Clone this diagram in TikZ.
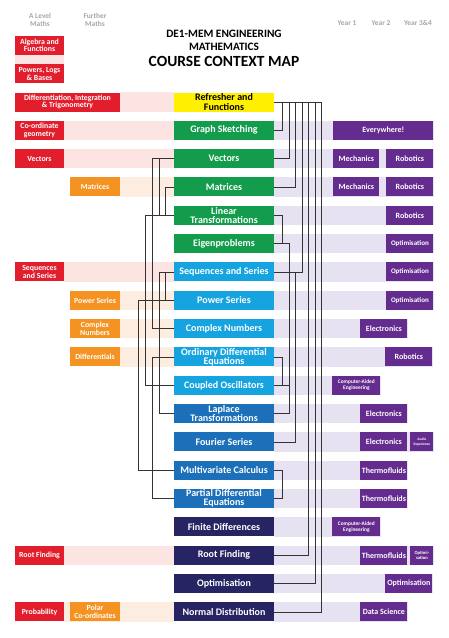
\documentclass[tikz,border=0pt]{standalone}
\usepackage{fontspec}
\setmainfont{Carlito}
\usepackage{xcolor}
\usepackage{tikz}
\usetikzlibrary{positioning, backgrounds}

\definecolor{alred}{RGB}{226,30,45}
\definecolor{fmorange}{RGB}{244,146,34}
\definecolor{refyellow}{RGB}{255,240,0}
\definecolor{coregreen}{RGB}{18,156,76}
\definecolor{corecyan}{RGB}{22,164,224}
\definecolor{coreblue}{RGB}{28,112,186}
\definecolor{corenavy}{RGB}{38,36,98}
\definecolor{usepurple}{RGB}{100,44,142}
\definecolor{lavband}{RGB}{231,226,241}
\definecolor{pinkband}{RGB}{252,228,226}
\definecolor{peachband}{RGB}{253,237,224}
\definecolor{headgrey}{RGB}{165,165,165}

\begin{document}
\begin{tikzpicture}[
    x=1pt, y=-1pt,
    core/.style={rectangle, minimum width=100pt, minimum height=19pt, inner sep=0pt, align=center, text=white, font=\bfseries\fontsize{10}{9.2}\selectfont},
    alevel/.style={rectangle, fill=alred, minimum width=49pt, minimum height=19pt, inner sep=0pt, align=center, text=white, font=\bfseries\fontsize{7.8}{7.8}\selectfont, anchor=west},
    further/.style={alevel, fill=fmorange, minimum width=50pt},
    usage/.style={rectangle, fill=usepurple, minimum width=47pt, minimum height=19pt, inner sep=0pt, align=center, text=white, font=\bfseries\fontsize{8}{7.4}\selectfont, anchor=west},
    tiny/.style={font=\bfseries\fontsize{5.4}{6.2}\selectfont},
    link/.style={draw=black!80, line width=0.7pt},
    head/.style={text=headgrey, font=\bfseries\fontsize{7.4}{8.2}\selectfont, align=center}
]
\useasboundingbox (0,0) rectangle (448,638);

% Title and column heads
\node[font=\bfseries\fontsize{11.3}{10}\selectfont] (title1) at (224,34) {DE1-MEM ENGINEERING};
\node[font=\bfseries\fontsize{11.3}{10}\selectfont] (title2) at (224,46.5) {MATHEMATICS};
\node[font=\bfseries\fontsize{15.5}{14}\selectfont] (title3) at (224,61) {COURSE CONTEXT MAP};
\node[head] (hal) at (40,20) {A Level\\Maths};
\node[head] (hfm) at (95,20) {Further\\Maths};
\node[head] (hy1) at (347,23) {Year 1};
\node[head] (hy2) at (381,23) {Year 2};
\node[head] (hy3) at (418,23) {Year 3\&4};

% Core course column
\node[core, fill=refyellow, text=black] (refr) at (224,102) {Refresher and\\Functions};
\node[core, fill=coregreen] (graph) at ([yshift=-28.33pt]refr.center) {Graph Sketching};
\node[core, fill=coregreen] (vectors) at ([yshift=-28.33pt]graph.center) {Vectors};
\node[core, fill=coregreen] (matrices) at ([yshift=-28.33pt]vectors.center) {Matrices};
\node[core, fill=coregreen] (linear) at ([yshift=-28.33pt]matrices.center) {Linear\\Transformations};
\node[core, fill=coregreen] (eigen) at ([yshift=-28.33pt]linear.center) {Eigenproblems};
\node[core, fill=corecyan] (seq) at ([yshift=-28.33pt]eigen.center) {Sequences and Series};
\node[core, fill=corecyan] (power) at ([yshift=-28.33pt]seq.center) {Power Series};
\node[core, fill=corecyan] (complex) at ([yshift=-28.33pt]power.center) {Complex Numbers};
\node[core, fill=corecyan] (ode) at ([yshift=-28.33pt]complex.center) {Ordinary Differential\\Equations};
\node[core, fill=corecyan] (coupled) at ([yshift=-28.33pt]ode.center) {Coupled Oscillators};
\node[core, fill=coreblue] (laplace) at ([yshift=-28.33pt]coupled.center) {Laplace\\Transformations};
\node[core, fill=coreblue] (fourier) at ([yshift=-28.33pt]laplace.center) {Fourier Series};
\node[core, fill=coreblue] (multi) at ([yshift=-28.33pt]fourier.center) {Multivariate Calculus};
\node[core, fill=coreblue] (pde) at ([yshift=-28.33pt]multi.center) {Partial Differential\\Equations};
\node[core, fill=corenavy] (finite) at ([yshift=-28.33pt]pde.center) {Finite Differences};
\node[core, fill=corenavy] (root) at ([yshift=-28.33pt]finite.center) {Root Finding};
\node[core, fill=corenavy] (optim) at ([yshift=-28.33pt]root.center) {Optimisation};
\node[core, fill=corenavy] (normal) at ([yshift=-28.33pt]optim.center) {Normal Distribution};

% A level and further maths
\node[alevel] (lalg) at ([xshift=-159pt, yshift=56.67pt]refr.west) {Algebra and\\Functions};
\node[alevel] (lpow) at ([xshift=-159pt, yshift=28.33pt]refr.west) {Powers, Logs\\\& Bases};
\node[alevel, minimum width=105pt] (ldiff) at ([xshift=-159pt]refr.west) {Differentiation, Integration\\\& Trigonometry};
\node[alevel] (lcoord) at ([xshift=-159pt]graph.west) {Co-ordinate\\geometry};
\node[alevel] (lvec) at ([xshift=-159pt]vectors.west) {Vectors};
\node[further] (fmat) at ([xshift=-104pt]matrices.west) {Matrices};
\node[alevel] (lseq) at ([xshift=-159pt]seq.west) {Sequences\\and Series};
\node[further] (fpow) at ([xshift=-104pt]power.west) {Power Series};
\node[further] (fcomp) at ([xshift=-104pt]complex.west) {Complex\\Numbers};
\node[further] (fdiff) at ([xshift=-104pt]ode.west) {Differentials};
\node[alevel] (lroot) at ([xshift=-159pt]root.west) {Root Finding};
\node[alevel] (lprob) at ([xshift=-159pt]normal.west) {Probability};
\node[further] (fpolar) at ([xshift=-104pt]normal.west) {Polar\\Co-ordinates};

% Later years
\node[usage, minimum width=100pt] (uevery) at ([xshift=59pt]graph.east) {Everywhere!};
\node[usage, minimum width=46pt] (umech1) at ([xshift=59pt]vectors.east) {Mechanics};
\node[usage] (urob1) at ([xshift=112pt]vectors.east) {Robotics};
\node[usage, minimum width=46pt] (umech2) at ([xshift=59pt]matrices.east) {Mechanics};
\node[usage] (urob2) at ([xshift=112pt]matrices.east) {Robotics};
\node[usage] (urob3) at ([xshift=112pt]linear.east) {Robotics};
\node[usage, font=\bfseries\fontsize{7}{6}\selectfont] (uopt1) at ([xshift=112pt]eigen.east) {Optimisation};
\node[usage, font=\bfseries\fontsize{7}{6}\selectfont] (uopt2) at ([xshift=112pt]seq.east) {Optimisation};
\node[usage, font=\bfseries\fontsize{7}{6}\selectfont] (uopt3) at ([xshift=112pt]power.east) {Optimisation};
\node[usage] (uelec1) at ([xshift=86pt]complex.east) {Electronics};
\node[usage] (urob4) at ([xshift=111pt]ode.east) {Robotics};
\node[usage, tiny, minimum width=48pt] (ucae1) at ([xshift=58pt]coupled.east) {Computer-Aided\\Engineering};
\node[usage] (uelec2) at ([xshift=86pt]laplace.east) {Electronics};
\node[usage] (uelec3) at ([xshift=86pt]fourier.east) {Electronics};
\node[usage, minimum width=23pt, font=\bfseries\fontsize{3.6}{4.2}\selectfont] (uaudio) at ([xshift=136pt]fourier.east) {Audio\\Experience};
\node[usage] (uthermo1) at ([xshift=86pt]multi.east) {Thermofluids};
\node[usage] (uthermo2) at ([xshift=86pt]pde.east) {Thermofluids};
\node[usage, tiny, minimum width=48pt] (ucae2) at ([xshift=58pt]finite.east) {Computer-Aided\\Engineering};
\node[usage] (uthermo3) at ([xshift=86pt]root.east) {Thermofluids};
\node[usage, minimum width=23pt, font=\bfseries\fontsize{4.6}{5.2}\selectfont] (uoptim) at ([xshift=136pt]root.east) {Optimi-\\sation};
\node[usage] (uopt4) at ([xshift=111pt]optim.east) {Optimisation};
\node[usage] (udata) at ([xshift=86pt]normal.east) {Data Science};

% Row bands
\begin{scope}[on background layer]
\fill[pinkband] (lalg.south west) rectangle (lpow.north east);
\fill[pinkband] (ldiff.north east) rectangle (refr.south west);
\fill[pinkband] (lcoord.north east) rectangle (graph.south west);
\fill[pinkband] (lvec.north east) rectangle (vectors.south west);
\fill[peachband] (fmat.north east) rectangle (matrices.south west);
\fill[pinkband] (lseq.north east) rectangle (seq.south west);
\fill[peachband] (fpow.north east) rectangle (power.south west);
\fill[peachband] (fcomp.north east) rectangle (complex.south west);
\fill[peachband] (fdiff.north east) rectangle (ode.south west);
\fill[pinkband] (lroot.north east) rectangle (root.south west);
\fill[peachband] (lprob.north east) rectangle (normal.south west);
\fill[lavband] (graph.north east) rectangle (uevery.south east);
\fill[lavband] (vectors.north east) rectangle (urob1.south east);
\fill[lavband] (matrices.north east) rectangle (urob2.south east);
\fill[lavband] (linear.north east) rectangle (urob3.south east);
\fill[lavband] (eigen.north east) rectangle (uopt1.south east);
\fill[lavband] (seq.north east) rectangle (uopt2.south east);
\fill[lavband] (power.north east) rectangle (uopt3.south east);
\fill[lavband] (complex.north east) rectangle (uelec1.south east);
\fill[lavband] (ode.north east) rectangle (urob4.south east);
\fill[lavband] (coupled.north east) rectangle (ucae1.south east);
\fill[lavband] (laplace.north east) rectangle (uelec2.south east);
\fill[lavband] (fourier.north east) rectangle (uaudio.south east);
\fill[lavband] (multi.north east) rectangle (uthermo1.south east);
\fill[lavband] (pde.north east) rectangle (uthermo2.south east);
\fill[lavband] (finite.north east) rectangle (ucae2.south east);
\fill[lavband] (root.north east) rectangle (uoptim.south east);
\fill[lavband] (optim.north east) rectangle (uopt4.south east);
\fill[lavband] (normal.north east) rectangle (udata.south east);
\end{scope}

% Links on the right
\draw[link] (graph.east) -- ++(8,0) |- (refr.east);
\draw[link] (vectors.east) -- ++(15,0) |- (refr.east);
\draw[link] (matrices.east) -- ++(21,0) |- (refr.east);
\draw[link] (seq.east) -- ++(28,0) |- (refr.east);
\draw[link] (root.east) -- ++(34,0) |- (refr.east);
\draw[link] (optim.east) -- ++(41,0) |- (refr.east);
\draw[link] (normal.east) -- ++(47,0) |- (refr.east);
\draw[link] (eigen.east) -- ++(8,0) |- (linear.east);
\draw[link] (laplace.east) -- ++(15,0) |- (eigen.east);
\draw[link] (coupled.east) -- ++(15,0);
\draw[link] (coupled.east) -- ++(8,0) |- (ode.east);
\draw[link] (fourier.east) -- ++(21,0) |- (seq.east);
\draw[link] (pde.east) -- ++(8,0) |- (multi.east);

% Links on the left
\draw[link] (linear.west) -- ++(-14,0) |- (vectors.west);
\draw[link] (complex.west) -- ++(-21,0) |- (vectors.west);
\draw[link] (matrices.west) -- ++(-8,0) |- (linear.west);
\draw[link] (coupled.west) -- ++(-28,0) |- (linear.west);
\draw[link] (power.west) -- ++(-8,0) |- (seq.west);
\draw[link] (laplace.west) -- ++(-14,0) |- (seq.west);
\draw[link] (multi.west) -- ++(-35,0) |- (power.west);
\draw[link] (pde.west) -- ++(-21,0) |- (ode.west);

\end{tikzpicture}
\end{document}
